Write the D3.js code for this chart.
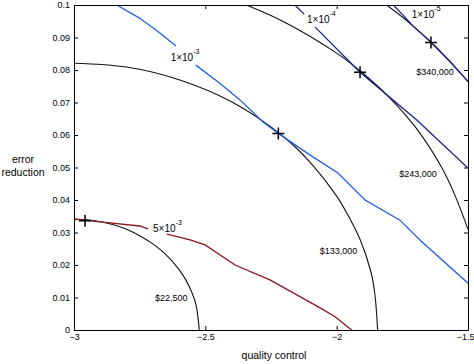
<!DOCTYPE html>
<html lang="en">
<head>
<meta charset="UTF-8">
<title>quality control vs error reduction</title>
<script src="https://d3js.org/d3.v7.min.js"></script>
<style>
    body { margin: 0; background: #fff; font-family: "Liberation Sans", Arial, sans-serif; }
    .axis text { font-size: 9px; fill: #000; font-family: "Liberation Sans", Arial, sans-serif; }
    .axis path, .axis line { stroke: #000; }
</style>
</head>
<body>
<svg width="474" height="364"></svg>
<script>
    // iso-cost curves (black)
    const cost22500 = [[-3, 0.0341], [-2.95, 0.0339], [-2.9, 0.0333], [-2.85, 0.0324], [-2.8, 0.0310], [-2.75, 0.0290],
        [-2.7, 0.0265], [-2.65, 0.0232], [-2.6, 0.0186], [-2.575, 0.0155], [-2.55, 0.0113], [-2.535, 0.0076], [-2.523, 0]];
    const cost133000 = [[-3, 0.0821], [-2.8, 0.0809], [-2.6, 0.0770], [-2.4, 0.0702], [-2.2, 0.0593], [-2.1, 0.0515],
        [-2.0, 0.0412], [-1.95, 0.0343], [-1.91, 0.0277], [-1.87, 0.0180], [-1.855, 0.0113], [-1.844, 0]];
    const cost243000 = [[-2.344, 0.1], [-2.2, 0.0948], [-2.0, 0.0852], [-1.9, 0.0790], [-1.8, 0.0716], [-1.7, 0.0624],
        [-1.6, 0.0500], [-1.55, 0.0415], [-1.5, 0.031]];
    const cost340000 = [[-1.81, 0.1], [-1.75, 0.0963], [-1.7, 0.0929], [-1.65, 0.0893], [-1.6, 0.0853], [-1.55, 0.0810], [-1.5, 0.0764]];

    // error probability contours (split where the label sits)
    const err1e3 = [
        [[-2.837, 0.1], [-2.749, 0.0959], [-2.673, 0.0914], [-2.612, 0.0874]],
        [[-2.536, 0.0815], [-2.45, 0.0762], [-2.368, 0.0708], [-2.280, 0.0640], [-2.222, 0.0605], [-2.101, 0.0538],
         [-1.995, 0.0483], [-1.892, 0.0400], [-1.759, 0.0338], [-1.683, 0.0277], [-1.5, 0.0144]]
    ];
    const err1e4 = [
        [[-2.159, 0.1], [-2.124, 0.0972]],
        [[-2.082, 0.0932], [-1.911, 0.0793], [-1.695, 0.0646], [-1.5, 0.0498]]
    ];
    const err1e5 = [
        [[-1.785, 0.1], [-1.747, 0.0969], [-1.713, 0.0938], [-1.641, 0.0885], [-1.569, 0.0826], [-1.5, 0.0765]]
    ];
    const err5e3 = [
        [[-3, 0.0342], [-2.901, 0.0333], [-2.749, 0.0320], [-2.718, 0.0311]],
        [[-2.646, 0.0295], [-2.558, 0.0277], [-2.501, 0.0262], [-2.387, 0.0200], [-2.254, 0.0154], [-2.063, 0.0068],
         [-2.006, 0.0041], [-1.943, 0]]
    ];

    // optimum points
    const optima = [[-2.958, 0.0336], [-2.222, 0.0605], [-1.911, 0.0793], [-1.641, 0.0885]];

    // labels: [x, y, base, exponent]
    const errLabels = [[-2.632, 0.0829, "1×10", "-3"], [-2.113, 0.0944, "1×10", "-4"],
        [-1.714, 0.0960, "1×10", "-5"], [-2.699, 0.0302, "5×10", "-3"]];
    const costLabels = [[-1.626, 0.0785, "$340,000"], [-1.690, 0.0471, "$243,000"],
        [-1.993, 0.0234, "$133,000"], [-2.630, 0.0089, "$22,500"]];

    const xTicks = [-3, -2.5, -2, -1.5];
    const yTicks = [0, 0.01, 0.02, 0.03, 0.04, 0.05, 0.06, 0.07, 0.08, 0.09, 0.1];

    const svg = d3.select("svg");
    const margin = { left: 74, right: 6, top: 5, bottom: 34 };
    const W = 474 - margin.left - margin.right, H = 364 - margin.top - margin.bottom;
    const g = svg.append("g").attr("transform", `translate(${margin.left},${margin.top})`);

    const x = d3.scaleLinear().domain([-3, -1.5]).range([0, W]);
    const y = d3.scaleLinear().domain([0, 0.1]).range([H, 0]);

    g.append("clipPath").attr("id", "clip").append("rect").attr("width", W).attr("height", H);
    const plot = g.append("g").attr("clip-path", "url(#clip)");

    const line = d3.line().x(d => x(d[0])).y(d => y(d[1]));
    const smooth = d3.line().x(d => x(d[0])).y(d => y(d[1])).curve(d3.curveCatmullRom);

    [cost22500, cost133000, cost243000, cost340000].forEach(c => {
        plot.append("path").attr("d", smooth(c)).attr("fill", "none").attr("stroke", "#111").attr("stroke-width", 1.1);
    });

    [[err1e3, "#1f5fdc"], [err1e4, "#1c1c8c"], [err1e5, "#1c1c8c"], [err5e3, "#8c1620"]].forEach(([segs, col]) => {
        segs.forEach(s => {
            plot.append("path").attr("d", line(s)).attr("fill", "none").attr("stroke", col).attr("stroke-width", 1.3);
        });
    });

    // axes, ticks pointing inward on all four sides
    const xAxis = g.append("g").attr("class", "axis").attr("transform", `translate(0,${H})`)
        .call(d3.axisBottom(x).tickValues(xTicks).tickSize(-4).tickSizeOuter(0).tickPadding(4).tickFormat(d3.format("")));
    // keep the last label inside the window
    xAxis.selectAll(".tick text").filter(d => d === -1.5).attr("text-anchor", "end").attr("dx", 6);
    g.append("g").attr("class", "axis")
        .call(d3.axisLeft(y).tickValues(yTicks).tickSize(-4).tickSizeOuter(0).tickPadding(4).tickFormat(d3.format("")));
    g.append("g").attr("class", "axis")
        .call(d3.axisTop(x).tickValues(xTicks).tickSize(-4).tickSizeOuter(0).tickFormat(""));
    g.append("g").attr("class", "axis").attr("transform", `translate(${W},0)`)
        .call(d3.axisRight(y).tickValues(yTicks).tickSize(-4).tickSizeOuter(0).tickFormat(""));

    // optimum markers
    g.selectAll(".opt").data(optima).enter().append("path")
        .attr("class", "opt")
        .attr("d", d => `M${x(d[0]) - 6},${y(d[1])}h12M${x(d[0])},${y(d[1]) - 6}v12`)
        .attr("stroke", "#000").attr("stroke-width", 1.5);

    // contour labels
    errLabels.forEach(d => {
        const t = g.append("text").attr("x", x(d[0])).attr("y", y(d[1]))
            .attr("font-size", 10).attr("fill", "#000");
        t.append("tspan").text(d[2]);
        t.append("tspan").attr("dy", -7).attr("font-size", 7).text(d[3]);
    });
    costLabels.forEach(d => {
        g.append("text").attr("x", x(d[0])).attr("y", y(d[1]))
            .attr("text-anchor", "middle").attr("font-size", 9).attr("fill", "#000").text(d[2]);
    });

    // axis titles
    svg.append("text").attr("x", 274).attr("y", 359).attr("text-anchor", "middle")
        .attr("font-size", 10.5).text("quality control");
    const yl = svg.append("text").attr("text-anchor", "middle").attr("font-size", 10.5);
    yl.append("tspan").attr("x", 23).attr("y", 163).text("error");
    yl.append("tspan").attr("x", 23).attr("y", 176).text("reduction");
</script>
</body>
</html>
